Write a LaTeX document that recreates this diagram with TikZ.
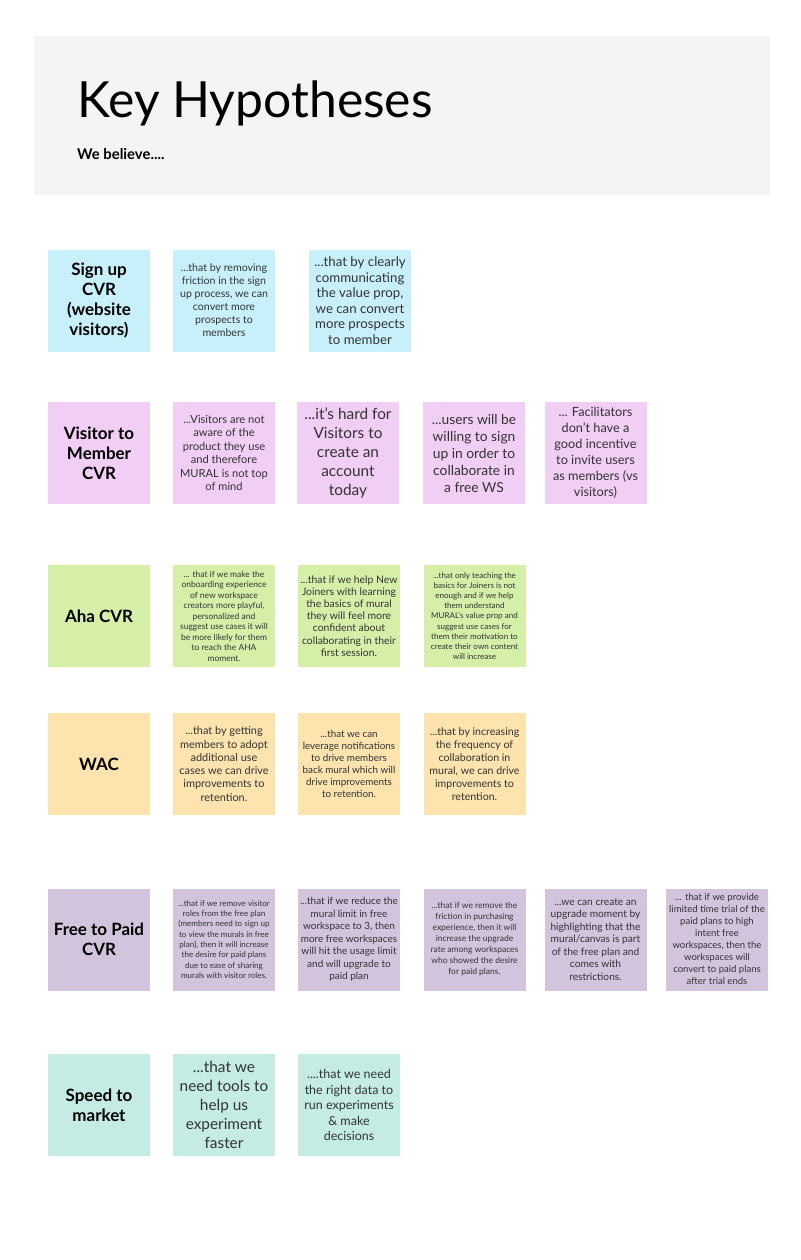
\documentclass[tikz,border=0pt]{standalone}
\usepackage{fontspec}
\setmainfont{Lato}[Scale=1.06]
\usetikzlibrary{positioning}
\definecolor{hdrbg}{HTML}{F4F4F4}
\definecolor{signupc}{HTML}{C8F0FA}
\definecolor{visitorc}{HTML}{F1CEF4}
\definecolor{ahac}{HTML}{D5EFA9}
\definecolor{wacc}{HTML}{FDE3AE}
\definecolor{paidc}{HTML}{D3C4DD}
\definecolor{speedc}{HTML}{C4ECE5}
\definecolor{notetext}{HTML}{333333}
\newcommand{\sz}[2]{\fontsize{#1}{#2}\selectfont}

\begin{document}
\begin{tikzpicture}[x=1pt,y=-1pt,
 note/.style={minimum width=102pt, minimum height=102pt, inner sep=0pt, align=center, text=notetext},
 head/.style={note, text=black, font=\bfseries\sz{16}{20}}]
\useasboundingbox (0,0) rectangle (800,1260);
\fill[white] (0,0) rectangle (800,1260);

% header
\node[fill=hdrbg, minimum width=736pt, minimum height=159pt, inner sep=0pt, anchor=north west](hdr) at (34,36){};
\node[anchor=base west, inner sep=0pt, font=\sz{47}{50}](title) at (77,118){Key Hypotheses};
\node[anchor=base west, inner sep=0pt, font=\bfseries\sz{14}{16}](sub) at (77,160){We believe....};

% sign up
\node[head, fill=signupc](signup) at (99,300.5){Sign up\\CVR\\(website\\visitors)};
\node[note, fill=signupc, font=\sz{10}{13}](su1) at (224,300.5){...that by removing\\friction in the sign\\up process, we can\\convert more\\prospects to\\members};
\node[note, fill=signupc, font=\sz{12.5}{15.5}](su2) at (360,300.5){...that by clearly\\communicating\\the value prop,\\we can convert\\more prospects\\to member};

% visitor to member
\node[head, fill=visitorc](visitor) at (99,453){Visitor to\\Member\\CVR};
\node[note, fill=visitorc, font=\sz{10.5}{13.5}](vm1) at (224,453){...Visitors are not\\aware of the\\product they use\\and therefore\\MURAL is not top\\of mind};
\node[note, fill=visitorc, font=\sz{14.5}{19}](vm2) at (348,453){...it's hard for\\Visitors to\\create an\\account\\today};
\node[note, fill=visitorc, font=\sz{13}{17}](vm3) at (474,453){...users will be\\willing to sign\\up in order to\\collaborate in\\a free WS};
\node[note, fill=visitorc, font=\sz{12}{16}](vm4) at (595.5,453){... Facilitators\\don't have a\\good incentive\\to invite users\\as members (vs\\visitors)};

% aha
\node[head, fill=ahac](aha) at (99,616){Aha CVR};
\node[note, fill=ahac, font=\sz{8}{10.5}](ah1) at (224,616){... that if we make the\\onboarding experience\\of new workspace\\creators more playful,\\personalized and\\suggest use cases it will\\be more likely for them\\to reach the AHA\\moment.};
\node[note, fill=ahac, font=\sz{9.8}{12.2}](ah2) at (349,616){...that if we help New\\Joiners with learning\\the basics of mural\\they will feel more\\confident about\\collaborating in their\\first session.};
\node[note, fill=ahac, font=\sz{7.6}{10.2}](ah3) at (474.5,616){...that only teaching the\\basics for Joiners is not\\enough and if we help\\them understand\\MURAL's value prop and\\suggest use cases for\\them their motivation to\\create their own content\\will increase};

% wac
\node[head, fill=wacc](wac) at (99,764){WAC};
\node[note, fill=wacc, font=\sz{10.3}{13.3}](wa1) at (224,764){...that by getting\\members to adopt\\additional use\\cases we can drive\\improvements to\\retention.};
\node[note, fill=wacc, font=\sz{9.3}{12}](wa2) at (349,764){...that we can\\leverage notifications\\to drive members\\back mural which will\\drive improvements\\to retention.};
\node[note, fill=wacc, font=\sz{10}{13}](wa3) at (474.5,764){...that by increasing\\the frequency of\\collaboration in\\mural, we can drive\\improvements to\\retention.};

% free to paid
\node[head, fill=paidc](paid) at (99,939.5){Free to Paid\\CVR};
\node[note, fill=paidc, font=\sz{7.6}{10.3}](fp1) at (224,939.5){...that if we remove visitor\\roles from the free plan\\(members need to sign up\\to view the murals in free\\plan), then it will increase\\the desire for paid plans\\due to ease of sharing\\murals with visitor roles.};
\node[note, fill=paidc, font=\sz{9.4}{12.5}](fp2) at (349,939.5){...that if we reduce the\\mural limit in free\\workspace to 3, then\\more free workspaces\\will hit the usage limit\\and will upgrade to\\paid plan};
\node[note, fill=paidc, font=\sz{8}{11}](fp3) at (474.5,939.5){...that if we remove the\\friction in purchasing\\experience, then it will\\increase the upgrade\\rate among workspaces\\who showed the desire\\for paid plans.};
\node[note, fill=paidc, font=\sz{9.6}{12.5}](fp4) at (595.5,939.5){...we can create an\\upgrade moment by\\highlighting that the\\mural/canvas is part\\of the free plan and\\comes with\\restrictions.};
\node[note, fill=paidc, font=\sz{9}{12}](fp5) at (717,939.5){... that if we provide\\limited time trial of the\\paid plans to high\\intent free\\workspaces, then the\\workspaces will\\convert to paid plans\\after trial ends};

% speed to market
\node[head, fill=speedc](speed) at (99,1105){Speed to\\market};
\node[note, fill=speedc, font=\sz{14.5}{19}](sp1) at (224,1105){...that we\\need tools to\\help us\\experiment\\faster};
\node[note, fill=speedc, font=\sz{11.8}{15.5}](sp2) at (349,1105){....that we need\\the right data to\\run experiments\\\& make\\decisions};
\end{tikzpicture}
\end{document}
